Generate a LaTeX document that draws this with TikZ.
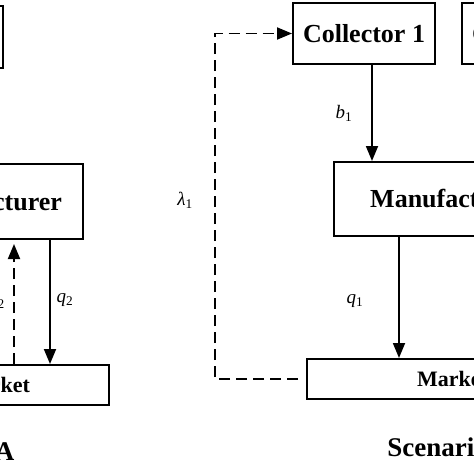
\documentclass[tikz,border=0pt]{standalone}
\usepackage{fontspec}
\setmainfont{Liberation Serif}
\usetikzlibrary{positioning,arrows.meta}

\tikzset{
  agent/.style={draw,line width=2pt,inner sep=0pt,minimum height=61pt,font=\bfseries\fontsize{26}{30}\selectfont},
  mkt/.style={draw,line width=2pt,inner sep=0pt,minimum height=40pt,font=\bfseries\fontsize{22}{26}\selectfont},
  scen/.style={inner sep=0pt,font=\bfseries\fontsize{27}{30}\selectfont},
  flow/.style={-{Triangle[length=15pt,width=12pt]},line width=1.8pt},
  feedback/.style={flow,dash pattern=on 11pt off 6pt},
  lbl/.style={inner sep=0pt,font=\itshape\fontsize{19}{21}\selectfont}
}
\newcommand{\varsub}[2]{#1\textsubscript{\upshape #2}}

\begin{document}
\begin{tikzpicture}[x=1pt,y=-1pt]
\useasboundingbox (0,0) rectangle (474,474);
\clip (0,0) rectangle (474,474);

% scenario A
\node[agent,minimum width=142pt,minimum height=62pt] (colA) at (-68,37) {};
\node[agent,minimum width=199pt,minimum height=75pt] (manA) at (-16.5,201.5) {Manufacturer};
\node[mkt,minimum width=229pt] (mktA) at (-5.5,385) {Market};
\node[scen] (scA) at (-49,451) {Scenario A};

\draw[flow] ([xshift=66.5pt]manA.south) -- ([xshift=66.5pt]manA.south |- mktA.north);
\draw[feedback,shorten >=4pt] ([xshift=30.5pt]manA.south |- mktA.north) -- ([xshift=30.5pt]manA.south);
\node[lbl] (qA) at (65,300) {\varsub{q}{2}};
\node[lbl,anchor=east] (lamA) at (5,300) {\varsub{λ}{2}};

% scenario B
\node[agent,minimum width=142pt] (col1) at (364,33.5) {Collector 1};
\node[agent,minimum width=142pt] (col2) at (533,33.5) {Collector 2};
\node[agent,minimum width=229pt,minimum height=74pt] (manB) at (448.7,199) {Manufacturer};
\node[mkt,minimum width=291pt] (mktB) at (452.5,379) {Market};
\node[scen] (scB) at (450,447) {Scenario B};

\draw[flow] ([xshift=8pt]col1.south) -- ([xshift=8pt]col1.south |- manB.north);
\draw[flow] ([xshift=-49.7pt]manB.south) -- ([xshift=-49.7pt]manB.south |- mktB.north);
\draw[feedback] ([xshift=-8pt]mktB.west) -- ++(-83,0) |- (col1.west);
\node[lbl] (bB) at (344,113) {\varsub{b}{1}};
\node[lbl] (qB) at (355,301) {\varsub{q}{1}};
\node[lbl] (lamB) at (185,200) {\varsub{λ}{1}};
\end{tikzpicture}
\end{document}
